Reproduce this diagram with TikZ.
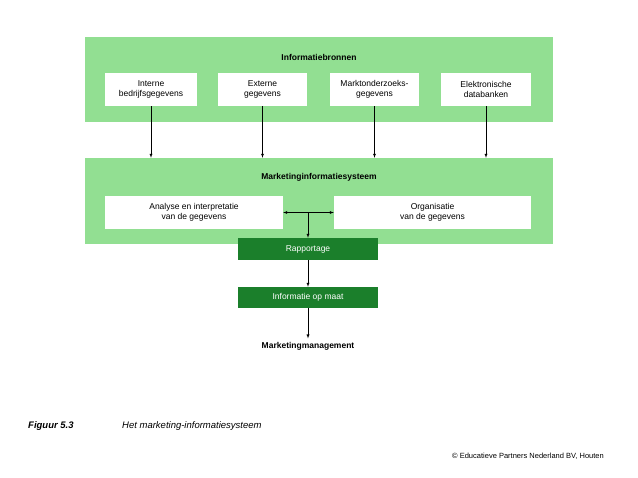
\documentclass[tikz,border=0pt]{standalone}
\usepackage{fontspec}
\setmainfont{Liberation Sans}
\begin{document}
\begin{tikzpicture}[x=1pt,y=-1pt,
  lg/.style={fill=lgreen,draw=none},
  wb/.style={fill=white,draw=none,align=center,font=\fontsize{8.5}{10}\selectfont,inner sep=0pt},
  db/.style={fill=dgreen,draw=none,text=white,font=\fontsize{8.5}{10}\selectfont,inner sep=0pt},
  ar/.style={-latex,thin},
  bt/.style={font=\fontsize{8.5}{10}\selectfont\bfseries}]
\definecolor{lgreen}{HTML}{92DF92}
\definecolor{dgreen}{HTML}{1B7F2B}
\useasboundingbox[fill=white] (0,0) rectangle (638,478);
\node[lg,minimum width=468,minimum height=85,inner sep=0] (src) at (319,79.5) {};
\node[bt] (srct) at (319,57) {Informatiebronnen};
\node[wb,minimum width=92,minimum height=33] (b1) at (151,89.5) {Interne\\bedrijfsgegevens};
\node[wb,minimum width=89,minimum height=33] (b2) at (262.5,89.5) {Externe\\gegevens};
\node[wb,minimum width=89,minimum height=33] (b3) at (374.5,89.5) {Marktonderzoeks-\\gegevens};
\node[wb,minimum width=90,minimum height=33] (b4) at (486,89.5) {Elektronische\\databanken};
\node[lg,minimum width=468,minimum height=86,inner sep=0] (mis) at (319,201) {};
\node[bt] (mist) at (319,177) {Marketinginformatiesysteem};
\node[wb,minimum width=178,minimum height=33] (an) at (194,212.5) {Analyse en interpretatie\\van de gegevens};
\node[wb,minimum width=197,minimum height=33] (or) at (432.5,212.5) {Organisatie\\van de gegevens};
\node[db,minimum width=140,minimum height=22] (rap) at (308,249) {Rapportage};
\node[db,minimum width=140,minimum height=21] (inf) at (308,297.5) {Informatie op maat};
\node[bt] (mm) at (308,346) {Marketingmanagement};
\coordinate (mid) at (308,212.5);
\foreach \b in {b1,b2,b3,b4} \draw[ar] (\b.south) -- (\b.south |- mis.north);
\draw[latex-latex,thin] (an.east) -- (or.west);
\draw[ar] (mid) -- (rap.north);
\draw[ar] (rap.south) -- (inf.north);
\draw[ar] (inf.south) -- (mm.north);
\node[anchor=west,font=\fontsize{9.5}{11}\selectfont\bfseries\itshape,inner sep=0] (fig) at (28,426) {Figuur 5.3};
\node[anchor=west,font=\fontsize{9.5}{11}\selectfont\itshape,inner sep=0] (cap) at (122,426) {Het marketing-informatiesysteem};
\node[anchor=east,font=\fontsize{7.5}{9}\selectfont,inner sep=0] (copy) at (604,456) {© Educatieve Partners Nederland BV, Houten};
\end{tikzpicture}
\end{document}
